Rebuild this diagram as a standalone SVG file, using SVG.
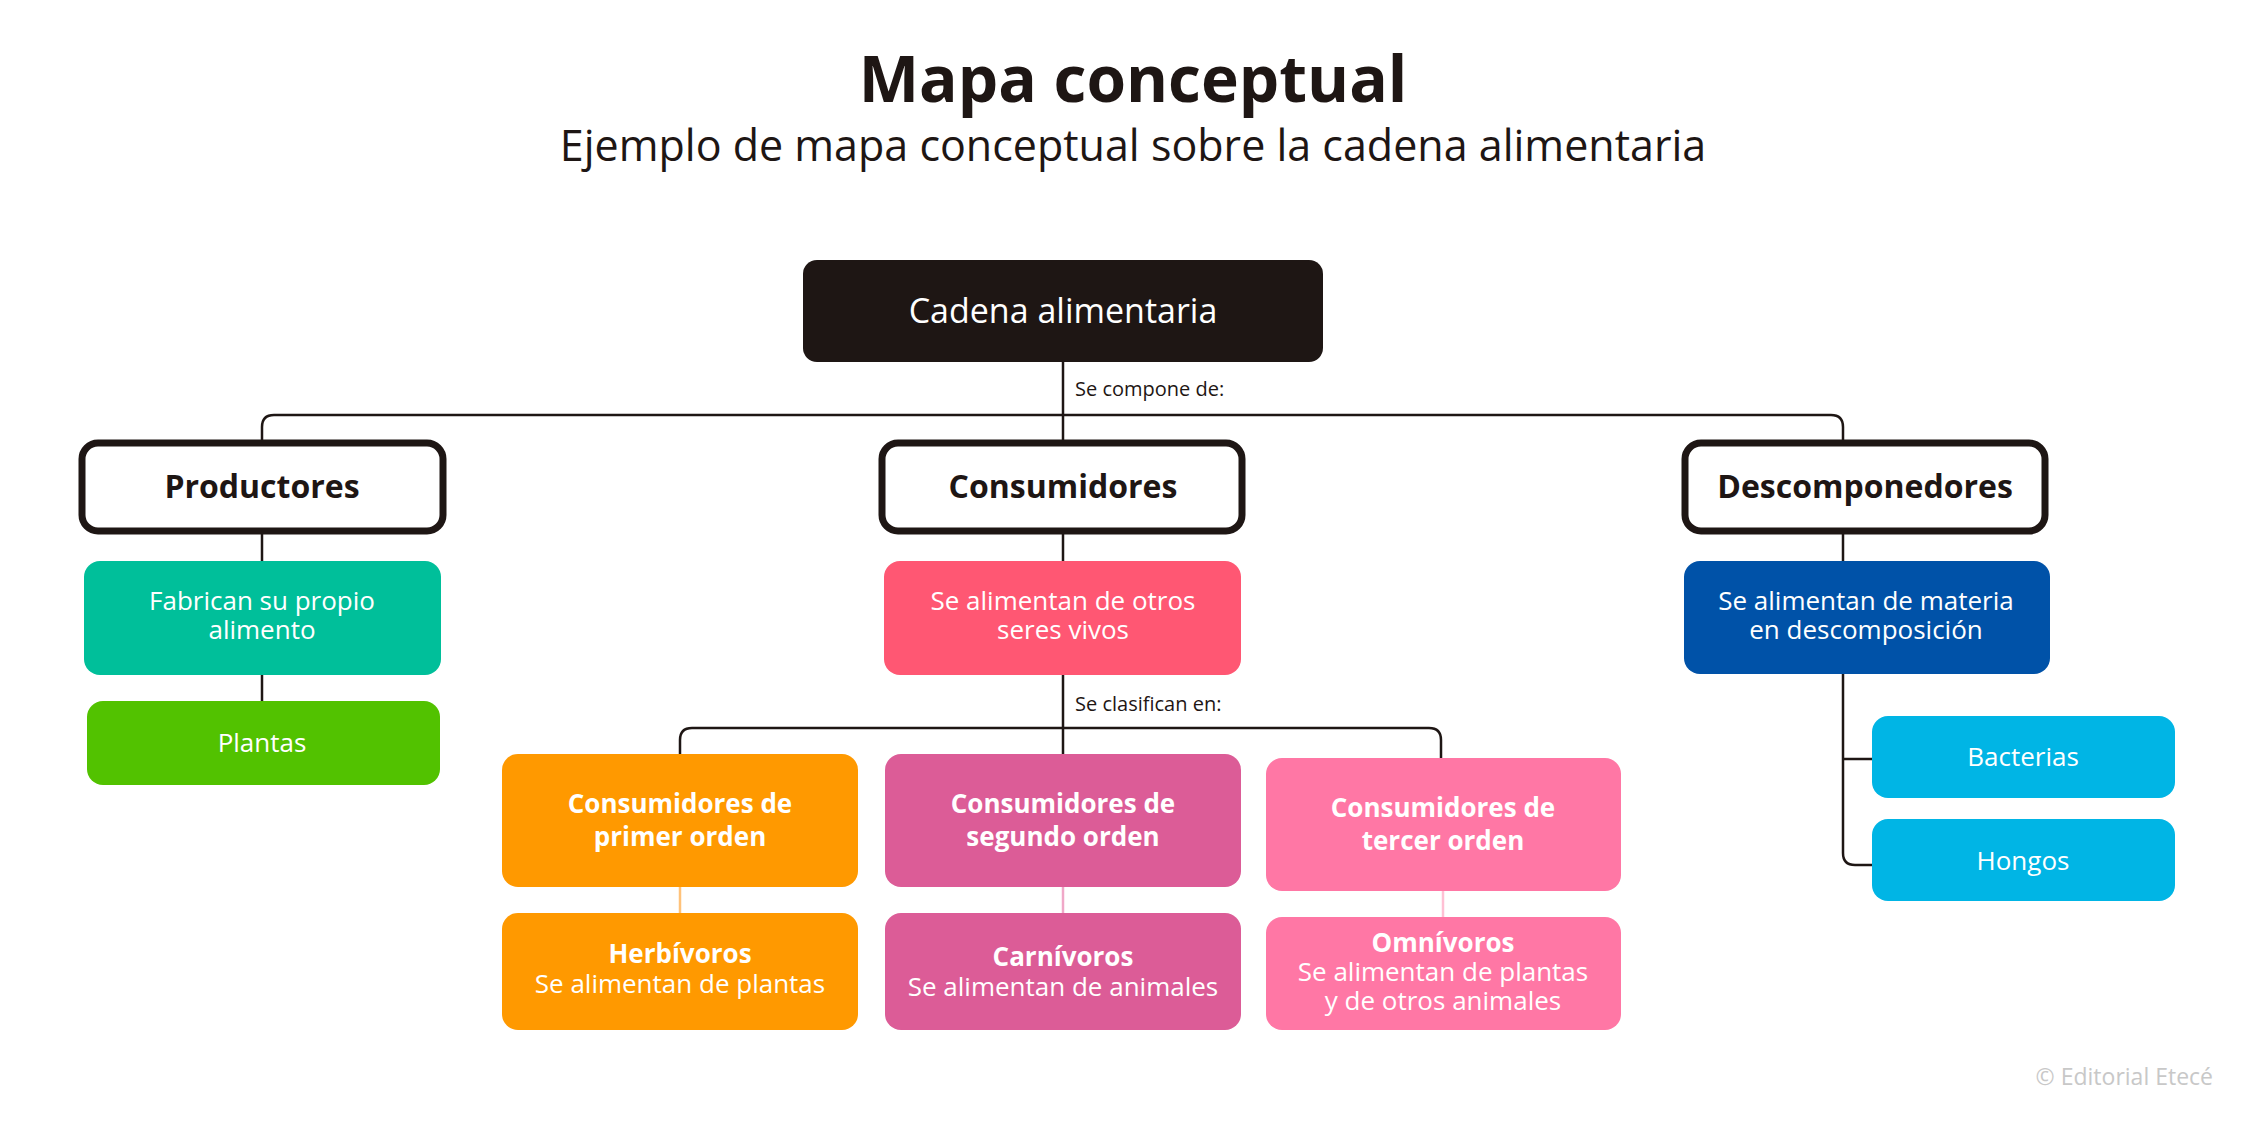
<svg xmlns="http://www.w3.org/2000/svg" width="2268" height="1134" viewBox="0 0 2268 1134">
<style>
text{font-family:"Open Sans","Liberation Sans",sans-serif;text-anchor:middle}
.w{fill:#fff;font-size:26px}
.b{font-weight:bold}
.h{fill:#1e1614;font-size:32px;font-weight:bold}
.lbl{fill:#1e1614;font-size:20px;text-anchor:start}
.ln{fill:none;stroke:#1e1614;stroke-width:2.5}
.out{fill:#fff;stroke:#1e1614;stroke-width:7}
</style>
<rect width="2268" height="1134" fill="#fff"/>
<text x="1133" y="102" font-size="64" font-weight="bold" fill="#1e1614">Mapa conceptual</text>
<text x="1133" y="161" font-size="43" fill="#1e1614">Ejemplo de mapa conceptual sobre la cadena alimentaria</text>
<g id="connectors">
<path class="ln" d="M1063 362V440"/>
<path class="ln" d="M262 443V427Q262 415 274 415H1831Q1843 415 1843 427V443"/>
<path class="ln" d="M262 531V561M262 675V701"/>
<path class="ln" d="M1063 531V561M1063 675V754"/>
<path class="ln" d="M680 754V740Q680 728 692 728H1429Q1441 728 1441 740V758"/>
<path class="ln" d="M1843 531V561M1843 674V853Q1843 865 1855 865H1872M1843 759H1872"/>
<path fill="none" stroke="#ffc27a" stroke-width="2.5" d="M680 887V913"/>
<path fill="none" stroke="#f0a8c8" stroke-width="2.5" d="M1063 887V913"/>
<path fill="none" stroke="#ffc0d4" stroke-width="2.5" d="M1443 891V917"/>
<text class="lbl" x="1075" y="396">Se compone de:</text>
<text class="lbl" x="1075" y="711">Se clasifican en:</text>
</g>
<g id="root"><rect x="803" y="260" width="520" height="102" rx="14" fill="#1e1614"/><text class="w" x="1063" y="323" style="font-size:34px">Cadena alimentaria</text></g>
<g id="productores"><rect class="out" x="82" y="443" width="361" height="88" rx="16"/><text class="h" x="262" y="498">Productores</text></g>
<g id="consumidores"><rect class="out" x="882" y="443" width="360" height="88" rx="16"/><text class="h" x="1063" y="498">Consumidores</text></g>
<g id="descomponedores"><rect class="out" x="1685" y="443" width="360" height="88" rx="16"/><text class="h" x="1865" y="498">Descomponedores</text></g>
<g id="fabrican"><rect x="84" y="561" width="357" height="114" rx="16" fill="#00bf9a"/><text class="w" x="262" y="610">Fabrican su propio</text><text class="w" x="262" y="639">alimento</text></g>
<g id="plantas"><rect x="87" y="701" width="353" height="84" rx="16" fill="#52c200"/><text class="w" x="262" y="752">Plantas</text></g>
<g id="otros"><rect x="884" y="561" width="357" height="114" rx="16" fill="#ff5773"/><text class="w" x="1063" y="610">Se alimentan de otros</text><text class="w" x="1063" y="639">seres vivos</text></g>
<g id="materia"><rect x="1684" y="561" width="366" height="113" rx="16" fill="#0052a8"/><text class="w" x="1866" y="610">Se alimentan de materia</text><text class="w" x="1866" y="639">en descomposición</text></g>
<g id="bacterias"><rect x="1872" y="716" width="303" height="82" rx="16" fill="#00b5e5"/><text class="w" x="2023" y="766">Bacterias</text></g>
<g id="hongos"><rect x="1872" y="819" width="303" height="82" rx="16" fill="#00b5e5"/><text class="w" x="2023" y="870">Hongos</text></g>
<g id="primer"><rect x="502" y="754" width="356" height="133" rx="16" fill="#ff9900"/><text class="w b" x="680" y="813">Consumidores de</text><text class="w b" x="680" y="846">primer orden</text></g>
<g id="segundo"><rect x="885" y="754" width="356" height="133" rx="16" fill="#dc5c97"/><text class="w b" x="1063" y="813">Consumidores de</text><text class="w b" x="1063" y="846">segundo orden</text></g>
<g id="tercer"><rect x="1266" y="758" width="355" height="133" rx="16" fill="#ff77a5"/><text class="w b" x="1443" y="817">Consumidores de</text><text class="w b" x="1443" y="850">tercer orden</text></g>
<g id="herbivoros"><rect x="502" y="913" width="356" height="117" rx="16" fill="#ff9900"/><text class="w b" x="680" y="963">Herbívoros</text><text class="w" x="680" y="993">Se alimentan de plantas</text></g>
<g id="carnivoros"><rect x="885" y="913" width="356" height="117" rx="16" fill="#dc5c97"/><text class="w b" x="1063" y="966">Carnívoros</text><text class="w" x="1063" y="996">Se alimentan de animales</text></g>
<g id="omnivoros"><rect x="1266" y="917" width="355" height="113" rx="16" fill="#ff77a5"/><text class="w b" x="1443" y="952">Omnívoros</text><text class="w" x="1443" y="981">Se alimentan de plantas</text><text class="w" x="1443" y="1010">y de otros animales</text></g>
<text x="2213" y="1085" font-size="23" fill="#c8c8c8" style="text-anchor:end">© Editorial Etecé</text>
</svg>
